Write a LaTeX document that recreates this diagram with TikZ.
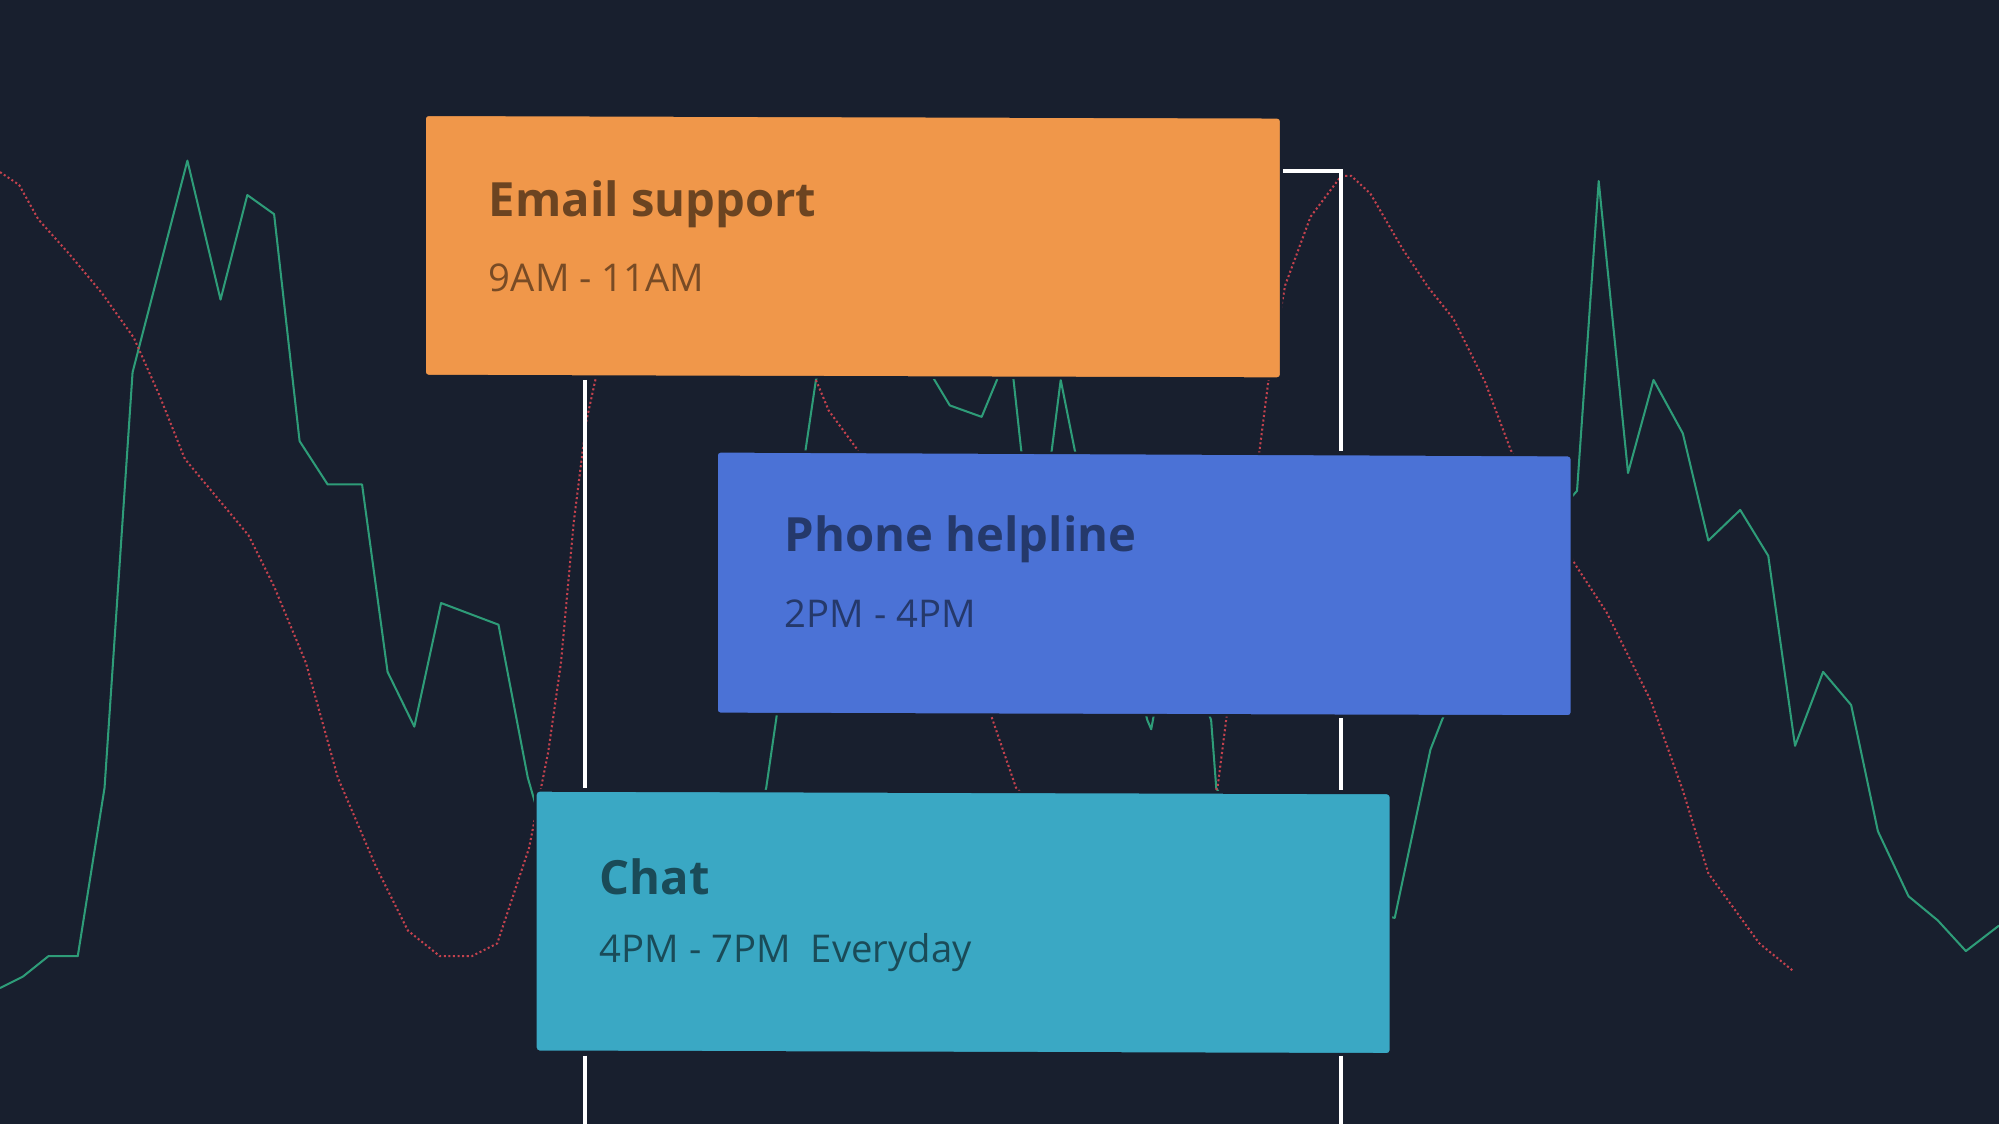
\documentclass[tikz,border=0pt]{standalone}
\usepackage{fontspec}
\setmainfont{Open Sans}
\begin{document}
\begin{tikzpicture}[x=1pt,y=-1pt,
  boxs/.style={draw=bg,line width=2pt,rounded corners=3pt},
  ttl/.style={anchor=west,font=\fontsize{37}{40}\selectfont\bfseries},
  sub/.style={anchor=west,font=\fontsize{30}{32}\selectfont},
  wl/.style={white,line width=3.5pt},
  green/.style={draw=gr,line width=1.6pt,line join=round},
  red/.style={draw=rd,line width=1.6pt,dotted}]
\definecolor{bg}{HTML}{181F2E}
\definecolor{gr}{HTML}{2E9C78}
\definecolor{rd}{HTML}{C4424E}
\definecolor{orng}{HTML}{F0974A}
\definecolor{blu}{HTML}{4B72D6}
\definecolor{tl}{HTML}{3AA8C4}
\fill[bg] (0,0) rectangle (1568,882);
\useasboundingbox (0,0) rectangle (1568,882);
% green line
\draw[green] (0,775)--(18,766)--(38,750)--(61,750)--(82,618)--(104,292)--(147,126)--(173,235)--(194,153)--(215,168)--(235,346)--(257,380)--(284,380)--(304,527)--(325,570)--(346,473)--(391,490)--(414,610)--(440,700)--(520,760)--(580,700)--(601,618)--(609,563)--(620,450)--(632,352)--(640,298)--(680,200)--(733,298)--(745,318)--(770,327)--(782,298)--(788,250)--(795,298)--(801,353)--(812,420)--(825,353)--(832,298)--(843,353)--(870,450)--(900,565)--(903,572)--(920,480)--(950,565)--(954,618)--(1000,700)--(1094,720)--(1122,588)--(1131,565)--(1180,450)--(1237,385)--(1254,142)--(1277,371)--(1297,298)--(1320,340)--(1340,424)--(1365,400)--(1387,436)--(1408,585)--(1430,527)--(1452,553)--(1473,652)--(1497,703)--(1520,722)--(1542,746)--(1568,726);
% red dotted
\draw[red] (0,135)--(15,145)--(30,172)--(55,200)--(80,230)--(105,265)--(125,310)--(145,360)--(170,390)--(195,420)--(215,460)--(240,520)--(265,610)--(295,680)--(320,730)--(345,750)--(370,750)--(390,740)--(415,665)--(430,590)--(440,520)--(450,410)--(460,330)--(467,298)--(500,200)--(600,230)--(640,298)--(650,322)--(672,352)--(720,450)--(778,563)--(797,618)--(880,700)--(955,618)--(962,563)--(975,450)--(988,353)--(995,298)--(1008,224)--(1028,170)--(1052,138)--(1060,138)--(1075,152)--(1100,195)--(1120,225)--(1140,250)--(1165,300)--(1185,353)--(1210,400)--(1237,445)--(1260,480)--(1295,550)--(1320,620)--(1340,685)--(1380,740)--(1407,762);
% white lines
\coordinate (t1) at (1006,134); \coordinate (t2) at (1052,134); \coordinate (t3) at (1052,354);
\draw[wl] (t1)--(t2)--(t3);
\coordinate (a1) at (459,298); \coordinate (a2) at (459,618);
\draw[wl] (a1)--(a2);
\coordinate (a3) at (459,828); \coordinate (a4) at (459,882);
\draw[wl] (a3)--(a4);
\coordinate (b1) at (1052,563); \coordinate (b2) at (1052,620);
\draw[wl] (b1)--(b2);
\coordinate (b3) at (1052,828); \coordinate (b4) at (1052,882);
\draw[wl] (b3)--(b4);
% boxes
\filldraw[boxs,fill=orng] (333,90)--(1005,92)--(1005,297)--(333,295)--cycle;
\node[ttl,text=orng!45!black] (et) at (380,160) {Email support};
\node[sub,text=orng!50!black] (es) at (380,218) {9AM - 11AM};
\filldraw[boxs,fill=blu] (562,354)--(1233,357)--(1233,562)--(562,560)--cycle;
\node[ttl,text=blu!50!black] (pt) at (612,423) {Phone helpline};
\node[sub,text=blu!50!black] (ps) at (612,481) {2PM - 4PM};
\filldraw[boxs,fill=tl] (420,620)--(1091,622)--(1091,827)--(420,825)--cycle;
\node[ttl,text=tl!45!black] (ct) at (467,688) {Chat};
\node[sub,text=tl!45!black] (cs) at (467,747) {4PM - 7PM\ \ Everyday};
\end{tikzpicture}
\end{document}
